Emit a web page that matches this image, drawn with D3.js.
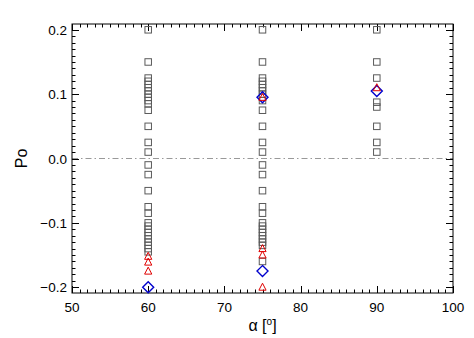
<!DOCTYPE html>
<html>
<head>
<meta charset="utf-8">
<script src="https://cdn.jsdelivr.net/npm/d3@7"></script>
<style>
  html, body { margin: 0; padding: 0; background: #fff; }
  svg { display: block; }
  text { font-family: "Liberation Sans", Arial, Helvetica, sans-serif; fill: #000; }
</style>
</head>
<body>
<svg id="chart" width="474" height="338"></svg>
<script>
// Incidence angles (degrees) of each column
const angles = [60, 75, 90];

// Gray squares: Po values per angle
const squares60 = [0.2, 0.15, 0.125, 0.12, 0.115, 0.11, 0.105, 0.1, 0.095, 0.09, 0.085, 0.075,
  0.05, 0.025, 0.01, -0.01, -0.025, -0.05, -0.075, -0.085, -0.1, -0.105, -0.11, -0.115,
  -0.12, -0.125, -0.13, -0.135, -0.14, -0.145];
const squares75 = [0.2, 0.15, 0.125, 0.12, 0.115, 0.11, 0.105, 0.1, 0.09, 0.075,
  0.05, 0.025, 0.01, -0.01, -0.025, -0.05, -0.075, -0.085, -0.1, -0.105, -0.11, -0.115,
  -0.12, -0.125, -0.13, -0.135, -0.16];
const squares90 = [0.2, 0.15, 0.125, 0.0875, 0.08, 0.05, 0.025, 0.01];

// Red triangles
const triangles60 = [-0.152, -0.161, -0.175];
const triangles75 = [0.095, -0.14, -0.15, -0.2];
const triangles90 = [0.11];

// Blue diamonds
const diamonds60 = [-0.2];
const diamonds75 = [0.095, -0.175];
const diamonds90 = [0.105];

// Axis ticks
const xTicks = [50, 60, 70, 80, 90, 100];
const yTicks = [-0.2, -0.1, 0.0, 0.1, 0.2];

const svg = d3.select("#chart");
const L = 72, R = 453, T = 24, B = 293;

const x = d3.scaleLinear().domain([50, 100]).range([L, R]);
const y = d3.scaleLinear().domain([-0.209, 0.209]).range([B, T]);

// zero reference line (dash-dot)
svg.append("line")
  .attr("x1", L).attr("x2", R)
  .attr("y1", y(0)).attr("y2", y(0))
  .attr("stroke", "#999").attr("stroke-width", 1)
  .attr("stroke-dasharray", "6,3,1.5,3");

// frame
svg.append("rect")
  .attr("x", L).attr("y", T).attr("width", R - L).attr("height", B - T)
  .attr("fill", "none").attr("stroke", "#000").attr("stroke-width", 1);

// minor / major ticks on all four sides, pointing inward
const xMinor = d3.range(50, 100.01, 1);
const yMinor = d3.range(-0.2, 0.2001, 0.01).map(v => +v.toFixed(3));
const isMajorX = v => Math.abs(v % 10) < 1e-6;
const isMajorY = v => Math.abs(Math.round(v * 10) - v * 10) < 1e-6;

const tickG = svg.append("g").attr("stroke", "#000").attr("stroke-width", 1);
xMinor.forEach(v => {
  const len = isMajorX(v) ? 7 : 3.5;
  const px = Math.round(x(v)) + 0.5;
  tickG.append("line").attr("x1", px).attr("x2", px).attr("y1", B).attr("y2", B - len);
  tickG.append("line").attr("x1", px).attr("x2", px).attr("y1", T).attr("y2", T + len);
});
yMinor.forEach(v => {
  const len = isMajorY(v) ? 7 : 3.5;
  const py = Math.round(y(v)) + 0.5;
  tickG.append("line").attr("x1", L).attr("x2", L + len).attr("y1", py).attr("y2", py);
  tickG.append("line").attr("x1", R).attr("x2", R - len).attr("y1", py).attr("y2", py);
});

// tick labels
svg.append("g").selectAll("text").data(xTicks).join("text")
  .attr("x", d => x(d)).attr("y", 312)
  .attr("text-anchor", "middle").attr("font-size", 13.5)
  .text(d => d);
svg.append("g").selectAll("text").data(yTicks).join("text")
  .attr("x", 67).attr("y", d => y(d) + 5)
  .attr("text-anchor", "end").attr("font-size", 13.5)
  .text(d => d3.format(".1f")(d));

// axis titles
svg.append("text")
  .attr("transform", `translate(27, ${y(0)}) rotate(-90)`)
  .attr("text-anchor", "middle").attr("font-size", 16)
  .text("Po");
const xt = svg.append("text")
  .attr("x", (L + R) / 2).attr("y", 331)
  .attr("text-anchor", "middle").attr("font-size", 16);
xt.append("tspan").text("α [");
xt.append("tspan").attr("font-size", 10).attr("dy", -6).text("o");
xt.append("tspan").attr("dy", 6).text("]");

// markers
const squareSets = [squares60, squares75, squares90];
const triangleSets = [triangles60, triangles75, triangles90];
const diamondSets = [diamonds60, diamonds75, diamonds90];
const flatten = sets => sets.flatMap((vals, i) => vals.map(v => ({ a: angles[i], v })));

svg.append("g").selectAll("rect").data(flatten(squareSets)).join("rect")
  .attr("x", d => x(d.a) - 3.25).attr("y", d => y(d.v) - 3.25)
  .attr("width", 6.5).attr("height", 6.5)
  .attr("fill", "none").attr("stroke", "#5a5a5a").attr("stroke-width", 1);

svg.append("g").selectAll("path").data(flatten(diamondSets)).join("path")
  .attr("transform", d => `translate(${x(d.a)},${y(d.v)})`)
  .attr("d", "M0,-5.5L5.5,0L0,5.5L-5.5,0Z")
  .attr("fill", "none").attr("stroke", "#0000cc").attr("stroke-width", 1.4);

svg.append("g").selectAll("path").data(flatten(triangleSets)).join("path")
  .attr("transform", d => `translate(${x(d.a)},${y(d.v)})`)
  .attr("d", "M0,-4L3.6,3L-3.6,3Z")
  .attr("fill", "none").attr("stroke", "#e00000").attr("stroke-width", 1);
</script>
</body>
</html>
